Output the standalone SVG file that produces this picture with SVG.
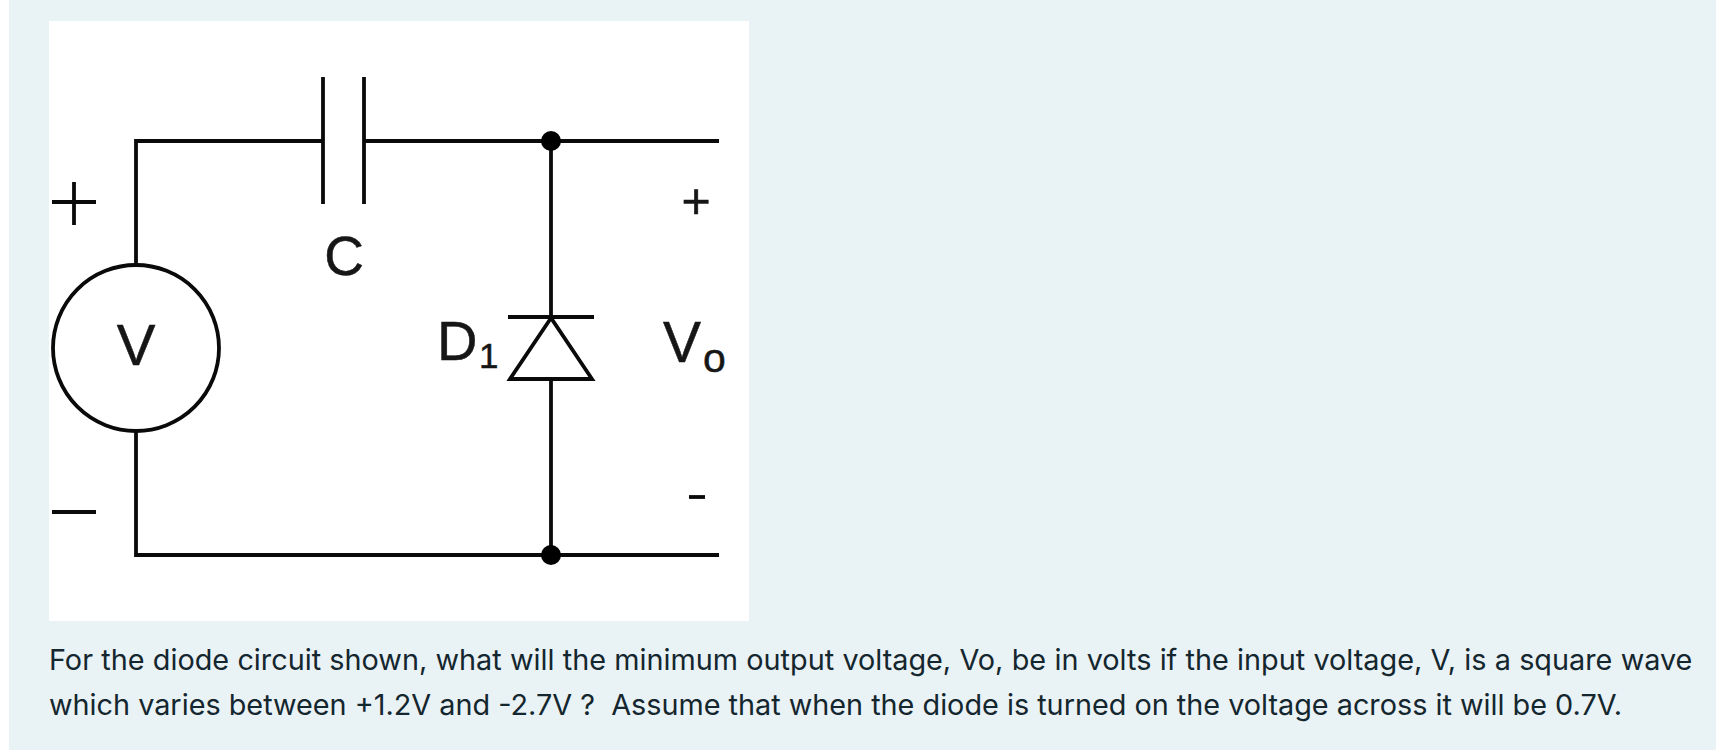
<svg xmlns="http://www.w3.org/2000/svg" width="1716" height="750" viewBox="0 0 1716 750">
<style>
.w{fill:none;stroke:#0a0a0a;stroke-width:3.8}
.l{font-family:"Liberation Sans",Arial,sans-serif;fill:#161616;stroke:#161616;stroke-width:.5}
.q{font-family:Inter,"Liberation Sans",sans-serif;font-size:28.8px;fill:#14262e}
.d{fill:#000}
</style>
<rect width="1716" height="750" fill="#fff"/>
<rect x="9" y="0" width="1707" height="750" fill="#e9f2f5"/>
<rect x="49" y="21" width="700" height="600" fill="#fff"/>
<g id="connectors">
<path class="w" d="M136 265V141H323M364 141H719"/>
<path class="w" d="M136 431V555H719"/>
<path class="w" d="M551 141V317M551 378V555"/>
</g>
<g id="capacitor"><path class="w" d="M323 77V204M364 77V204"/><text class="l" x="344" y="275" font-size="55" text-anchor="middle">C</text></g>
<g id="source"><circle class="w" cx="136" cy="348" r="83"/><text class="l" x="136" y="365" font-size="58" text-anchor="middle">V</text></g>
<g id="diode"><path class="w" d="M508 317H594M551 318L510 379H592Z"/><text class="l" x="437" y="360" font-size="56">D</text><text class="l" x="479" y="368" font-size="35">1</text></g>
<g id="n1"><circle class="d" cx="551" cy="141" r="10"/></g>
<g id="n2"><circle class="d" cx="551" cy="555" r="10"/></g>
<g id="labels">
<path class="w" d="M52 202H96M74 182V225M52 512H96"/>
<text class="l" x="696" y="218" font-size="50" text-anchor="middle">+</text>
<text class="l" x="663" y="362" font-size="57">V</text><text class="l" x="703" y="372" font-size="41">o</text>
<path class="w" d="M689 497H705"/>
</g>
<text class="q" x="49" y="670" word-spacing=".2">For the diode circuit shown, what will the minimum output voltage, Vo, be in volts if the input voltage, V, is a square wave</text>
<text class="q" x="49" y="715" xml:space="preserve">which varies between +1.2V and -2.7V ?  Assume that when the diode is turned on the voltage across it will be 0.7V.</text>
</svg>
